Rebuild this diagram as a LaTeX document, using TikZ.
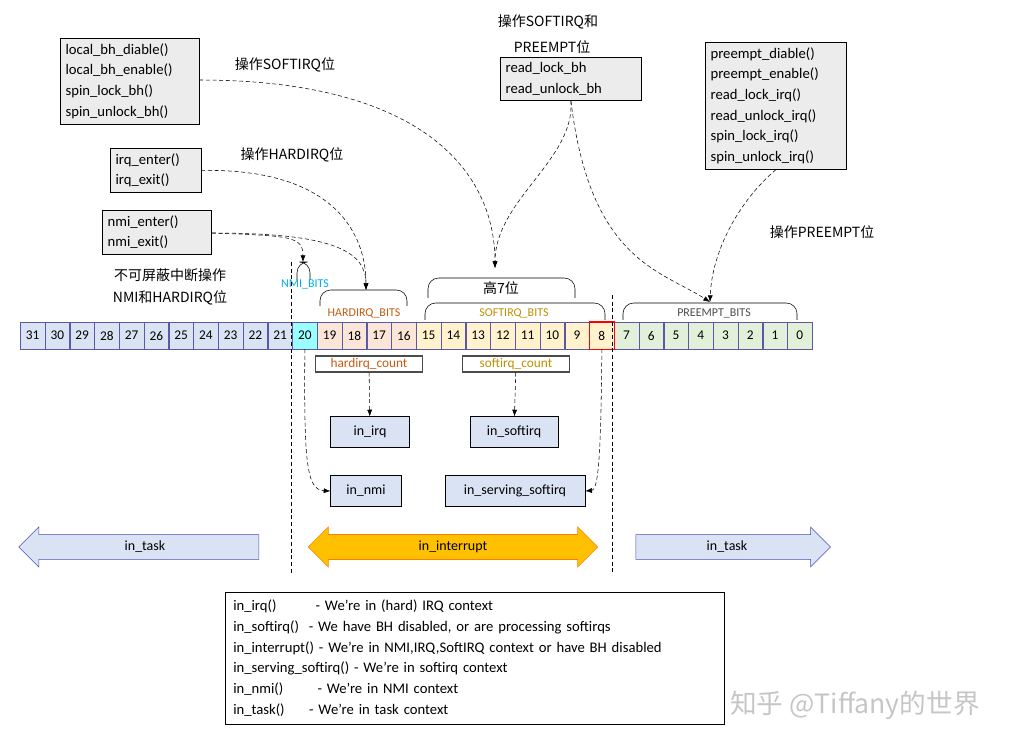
\documentclass[tikz,border=0pt]{standalone}
\usepackage{fontspec}
\setmainfont{Carlito}
\newfontfamily\cjk{Noto Sans CJK SC}
\usetikzlibrary{arrows.meta,positioning,shapes.arrows}
\definecolor{bitblue}{HTML}{DAE3F3}
\definecolor{bitcyan}{HTML}{99FFFF}
\definecolor{bitpeach}{HTML}{FBE5D6}
\definecolor{bityel}{HTML}{FFF2CC}
\definecolor{bitgreen}{HTML}{E2F0D9}
\definecolor{hardc}{HTML}{C55A11}
\definecolor{softc}{HTML}{BF9000}
\definecolor{gold}{HTML}{FFC000}
\tikzset{
	func/.style={draw,fill=gray!15,align=left,anchor=north west,inner sep=4pt,font=\fontsize{11}{15.5}\selectfont},
	bit/.style={draw=gray!70!blue,minimum width=18.5pt,minimum height=20pt,inner sep=0pt,anchor=north west,font=\fontsize{10}{12}\selectfont},
	mac/.style={draw,fill=bitblue,minimum height=23pt,font=\fontsize{10.5}{12}\selectfont},
	cnt/.style={draw,thick,minimum height=12pt,inner sep=1pt,font=\fontsize{10}{12}\selectfont},
	lbl/.style={font=\cjk\fontsize{10.5}{12}\selectfont},
	link/.style={densely dashed,-{Latex[length=5pt]}},
	brace/.style={rounded corners=8pt,thin},
	big/.style={single arrow,draw=gray!60!blue,minimum width=30pt,single arrow head extend=4pt,inner sep=2pt,font=\fontsize{10.5}{12}\selectfont}
}
\begin{document}
\begin{tikzpicture}[x=0.75pt,y=-0.75pt]
	\useasboundingbox (0,0) rectangle (1020,748);
	% function boxes
	\node[func,text width=96pt] (bh) at (60,38) {local\_bh\_diable()\\local\_bh\_enable()\\spin\_lock\_bh()\\spin\_unlock\_bh()};
	\node[func,text width=60pt] (irq) at (110,148) {irq\_enter()\\irq\_exit()};
	\node[func,text width=74pt] (nmi) at (102,210) {nmi\_enter()\\nmi\_exit()};
	\node[func,text width=98pt] (rl) at (500,57) {read\_lock\_bh\\read\_unlock\_bh};
	\node[func,text width=98pt] (pre) at (705,42) {preempt\_diable()\\preempt\_enable()\\read\_lock\_irq()\\read\_unlock\_irq()\\spin\_lock\_irq()\\spin\_unlock\_irq()};
	% labels
	\node[lbl] (l1) at (285,65) {操作SOFTIRQ位};
	\node[lbl] (l2) at (292,155) {操作HARDIRQ位};
	\node[lbl] (l3) at (548,22) {操作SOFTIRQ和};
	\node[lbl] (l4) at (552,47) {PREEMPT位};
	\node[lbl] (l5) at (822,232) {操作PREEMPT位};
	\node[lbl] (l6) at (170,275) {不可屏蔽中断操作};
	\node[lbl] (l7) at (170,298) {NMI和HARDIRQ位};
	\node[lbl] (l8) at (501,288) {高7位};
	% bits
	\foreach \i in {0,...,31}{
		\pgfmathtruncatemacro\b{31-\i}
		\ifnum\b>20 \def\c{bitblue}\else\ifnum\b=20 \def\c{bitcyan}\else\ifnum\b>15 \def\c{bitpeach}\else\ifnum\b>7 \def\c{bityel}\else\def\c{bitgreen}\fi\fi\fi\fi
		\node[bit,fill=\c] (b\b) at ({20+\i*24.75},322) {\b};
	}
	\draw[red,thick] (b8.north west) rectangle (b8.south east);
	% braces
	\draw[brace] (297,280) -- (297,262) -- (310,262) -- (310,280);
	\node[font=\fontsize{9}{10}\selectfont,text=cyan] (nb) at (305,284) {NMI\_BITS};
	\draw[brace] (320,306) -- (320,290) -- (407,290) -- (407,306);
	\node[font=\fontsize{9}{10}\selectfont,text=hardc] (hb) at (364,313) {HARDIRQ\_BITS};
	\draw[brace] (428,298) -- (428,278) -- (575,278) -- (575,298);
	\draw[brace] (425,320) -- (425,303) -- (605,303) -- (605,320);
	\node[font=\fontsize{9}{10}\selectfont,text=softc] (sb) at (514,313) {SOFTIRQ\_BITS};
	\draw[brace] (623,320) -- (623,303) -- (797,303) -- (797,320);
	\node[font=\fontsize{9}{10}\selectfont,text=black!70] (pb) at (714,313) {PREEMPT\_BITS};
	% counters and macros
	\node[cnt,draw=black!70,text=hardc,minimum width=80pt] (hc) at (369,364) {hardirq\_count};
	\node[cnt,draw=black!70,text=softc,minimum width=80pt] (sc) at (516,364) {softirq\_count};
	\node[mac,minimum width=59pt] (inirq) at (370,432) {in\_irq};
	\node[mac,minimum width=66pt] (insoft) at (514,432) {in\_softirq};
	\node[mac,minimum width=53pt] (innmi) at (366,491) {in\_nmi};
	\node[mac,minimum width=105pt] (inserv) at (515,491) {in\_serving\_softirq};
	% separators
	\draw[densely dashed] (291,262) -- (291,575);
	\draw[densely dashed] (612,295) -- (612,575);
	% big arrows
	\node[big,fill=bitblue,shape border rotate=180,minimum height=180pt] (tl) at (145,547) {in\_task};
	\node[big,fill=bitblue,minimum height=146pt] (tr) at (727,547) {in\_task};
	\node[double arrow,draw=orange,fill=gold,minimum height=217pt,minimum width=30pt,double arrow head extend=4pt,inner sep=2pt,font=\fontsize{10.5}{12}\selectfont] (ti) at (453,547) {in\_interrupt};
	% legend
	\node[draw,align=left,anchor=north west,inner sep=6pt,text width=362pt,font=\fontsize{11}{15.5}\selectfont] (leg) at (225,592) {%
		in\_irq()\qquad\ \ - We're in (hard) IRQ context\\
		in\_softirq()\ \ - We have BH disabled, or are processing softirqs\\
		in\_interrupt() - We're in NMI,IRQ,SoftIRQ context or have BH disabled\\
		in\_serving\_softirq() - We're in softirq context\\
		in\_nmi()\qquad\ - We're in NMI context\\
		in\_task()\quad\ \ - We're in task context};
	\node[font=\cjk\fontsize{20}{24}\selectfont,text=gray!45] (wm) at (855,705) {知乎 @Tiffany的世界};
	% links
	\draw[link] (bh.east |- 0,80) .. controls (420,80) and (495,170) .. (495,268);
	\draw[link] (rl.south) .. controls (575,160) and (495,200) .. (495,268);
	\draw[link] (rl.south) .. controls (590,260) and (660,270) .. (710,302);
	\draw[link] (pre.south) .. controls (740,200) and (712,250) .. (710,302);
	\draw[link] (irq.east) .. controls (330,168) and (366,230) .. (366,290);
	\draw[link] (nmi.east |- 0,233) .. controls (330,233) and (366,250) .. (366,290);
	\draw[link] (nmi.east |- 0,233) .. controls (290,236) and (303,236) .. (303,262);
	\draw[link] (b20.south) .. controls (304,460) and (306,490) .. (innmi.west);
	\draw[link] (b8.south) .. controls (601,460) and (598,490) .. (inserv.east);
	\draw[link] (hc) -- (inirq);
	\draw[link] (sc) -- (insoft);
\end{tikzpicture}
\end{document}
